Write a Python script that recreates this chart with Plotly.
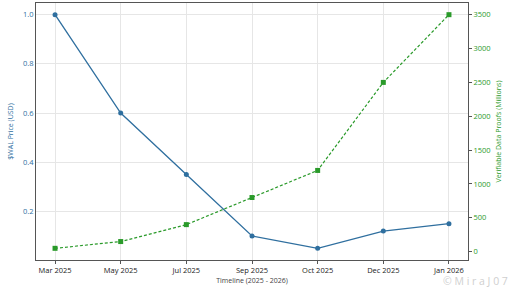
import plotly.graph_objects as go

months = ["Mar 2025", "May 2025", "Jul 2025", "Sep 2025", "Oct 2025", "Dec 2025", "Jan 2026"]
price = [1.0, 0.6, 0.35, 0.10, 0.05, 0.12, 0.15]
proofs = [50, 150, 400, 800, 1200, 2500, 3500]

blue = "#2f6f9f"
green = "#2a9a2a"
font = "Open Sans"

fig = go.Figure()
fig.add_trace(go.Scatter(x=months, y=price, mode="lines+markers",
                         line=dict(color=blue, width=1.3),
                         marker=dict(color=blue, size=5, symbol="circle"),
                         yaxis="y", showlegend=False))
fig.add_trace(go.Scatter(x=months, y=proofs, mode="lines+markers",
                         line=dict(color=green, width=1.2, dash="3px,2px"),
                         marker=dict(color=green, size=5, symbol="square"),
                         yaxis="y2", showlegend=False))

fig.update_layout(
    width=512, height=291,
    margin=dict(l=36, r=44, t=3, b=31),
    paper_bgcolor="white", plot_bgcolor="white",
    font=dict(family=font, size=7, color="#333"),
    xaxis=dict(type="category", range=[-0.29, 6.29],
               showline=True, linecolor="#555", linewidth=1, mirror=True,
               showgrid=True, gridcolor="#e6e6e6", gridwidth=0.8,
               ticks="outside", ticklen=3, tickcolor="#555",
               tickfont=dict(size=7.5, color="#222"),
               title=dict(text="Timeline (2025 - 2026)", font=dict(size=7, color="#444"), standoff=4)),
    yaxis=dict(range=[0.0025, 1.0475], tickvals=[0.2, 0.4, 0.6, 0.8, 1.0], tickformat=".1f",
               showline=True, linecolor="#555", linewidth=1,
               showgrid=True, gridcolor="#e6e6e6", gridwidth=0.8,
               ticks="", zeroline=False,
               tickfont=dict(size=7.5, color=blue),
               title=dict(text="$WAL Price (USD)", font=dict(size=7, color=blue), standoff=8)),
    yaxis2=dict(range=[-122.5, 3672.5], tickvals=[0, 500, 1000, 1500, 2000, 2500, 3000, 3500],
                overlaying="y", side="right",
                showline=True, linecolor="#555", linewidth=1,
                showgrid=False, zeroline=False,
                ticks="outside", ticklen=3, tickcolor="#555",
                tickfont=dict(size=7.5, color=green),
                title=dict(text="Verifiable Data Proofs (Millions)", font=dict(size=7, color=green), standoff=6)),
    annotations=[dict(text="© M i r a J 0 7", xref="paper", yref="paper", x=1.098, y=-0.083,
                      xanchor="right", yanchor="middle", showarrow=False,
                      font=dict(size=10.5, color="#cfcfcf"))],
)

fig.write_html("out.html")
